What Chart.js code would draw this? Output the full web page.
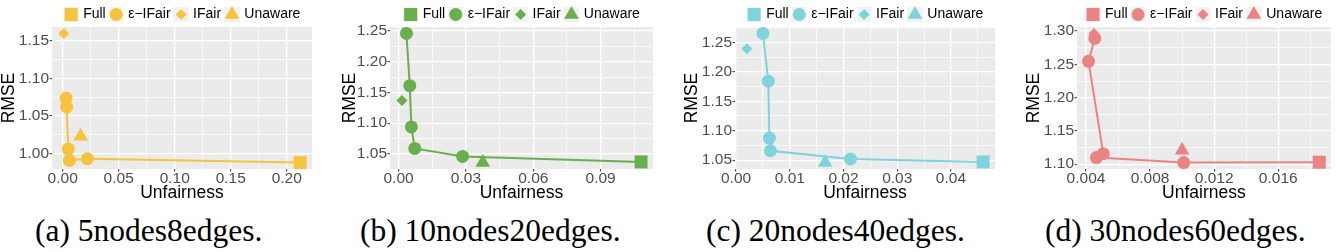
<!DOCTYPE html>
<html>
<head>
<meta charset="utf-8">
<script src="https://cdn.jsdelivr.net/npm/chart.js@4/dist/chart.umd.min.js"></script>
<style>
  body { margin: 0; background: #fff; width: 1340px; height: 252px; position: relative; overflow: hidden; }
  .panel { position: absolute; top: 0; width: 335px; height: 205px; }
  .cap { position: absolute; top: 215px; font-family: "Liberation Serif", serif; font-size: 31.5px; line-height: 31.5px; color: #000; white-space: nowrap; }
</style>
</head>
<body>
<div class="panel" style="left:0px"><canvas id="chartA" width="335" height="205"></canvas></div>
<div class="panel" style="left:335px"><canvas id="chartB" width="335" height="205"></canvas></div>
<div class="panel" style="left:670px"><canvas id="chartC" width="335" height="205"></canvas></div>
<div class="panel" style="left:1005px"><canvas id="chartD" width="335" height="205"></canvas></div>
<script>
// legend / captions
const legendLabels = ['Full', 'ε−IFair', 'IFair', 'Unaware'];
const captions = ['(a) 5nodes8edges.', '(b) 10nodes20edges.', '(c) 20nodes40edges.', '(d) 30nodes60edges.'];

// (a) 5nodes8edges  -- points are [unfairness, rmse]
const epsUnfairA = [0.003, 0.0035, 0.005, 0.006, 0.022];
const epsRmseA = [1.074, 1.062, 1.006, 0.991, 0.993];
const fullA = [0.212, 0.988];
const ifairA = [0.001, 1.160];
const unawareA = [0.016, 1.023];
const xTicksA = [0, 0.05, 0.10, 0.15, 0.20];
const yTicksA = [1.00, 1.05, 1.10, 1.15];

// (b) 10nodes20edges
const epsUnfairB = [0.0035, 0.005, 0.0057, 0.0072, 0.0285];
const epsRmseB = [1.246, 1.161, 1.094, 1.059, 1.046];
const fullB = [0.108, 1.037];
const ifairB = [0.0015, 1.137];
const unawareB = [0.0375, 1.036];
const xTicksB = [0, 0.03, 0.06, 0.09];
const yTicksB = [1.05, 1.10, 1.15, 1.20, 1.25];

// (c) 20nodes40edges
const epsUnfairC = [0.005, 0.006, 0.0062, 0.0064, 0.0213];
const epsRmseC = [1.265, 1.184, 1.0875, 1.066, 1.052];
const fullC = [0.046, 1.047];
const ifairC = [0.002, 1.239];
const unawareC = [0.0166, 1.046];
const xTicksC = [0, 0.01, 0.02, 0.03, 0.04];
const yTicksC = [1.05, 1.10, 1.15, 1.20, 1.25];

// (d) 30nodes60edges
const epsUnfairD = [0.00455, 0.00416, 0.00508, 0.00465, 0.0101];
const epsRmseD = [1.289, 1.2546, 1.1157, 1.110, 1.1025];
const fullD = [0.01856, 1.103];
const ifairD = [0.0045, 1.2965];
const unawareD = [0.0100, 1.121];
const xTicksD = [0.004, 0.008, 0.012, 0.016];
const yTicksD = [1.10, 1.15, 1.20, 1.25, 1.30];

const colors = ['#F5C43C', '#6AAF4D', '#7FD3DB', '#EA8483'];
const FONT = '"Liberation Sans", Arial, sans-serif';

function pts(xs, ys) { return xs.map((x, i) => ({ x: x, y: ys[i] })); }

// ggplot-like 5% expansion of the data range
function expand(vals) {
  const lo = Math.min(...vals), hi = Math.max(...vals), pad = (hi - lo) * 0.05;
  return [lo - pad, hi + pad];
}

// majors plus minor gridlines half way between
function withMinor(major, lo, hi) {
  const half = (major[1] - major[0]) / 2;
  let v = major[0];
  while (v - half >= lo) v -= half;
  const out = [];
  for (; v <= hi + 1e-12; v += half) {
    const isMajor = major.some(m => Math.abs(m - v) < half * 1e-3);
    out.push({ value: v, minor: !isMajor });
  }
  return out;
}

function drawShape(ctx, style, r, x, y, color) {
  ctx.fillStyle = color;
  ctx.beginPath();
  if (style === 'circle') {
    ctx.arc(x, y, r, 0, Math.PI * 2);
  } else if (style === 'rect') {
    const s = r * Math.SQRT1_2;
    ctx.rect(x - s, y - s, 2 * s, 2 * s);
  } else if (style === 'rectRot') {
    ctx.moveTo(x - r, y); ctx.lineTo(x, y - r); ctx.lineTo(x + r, y); ctx.lineTo(x, y + r); ctx.closePath();
  } else if (style === 'triangle') {
    ctx.moveTo(x, y - r); ctx.lineTo(x + r * 0.866, y + r / 2); ctx.lineTo(x - r * 0.866, y + r / 2); ctx.closePath();
  }
  ctx.fill();
}

// grey panel background
const panelBg = {
  id: 'panelBg',
  beforeDraw(chart) {
    const a = chart.chartArea, ctx = chart.ctx;
    ctx.save();
    ctx.fillStyle = '#EBEBEB';
    ctx.fillRect(a.left, a.top, a.right - a.left, a.bottom - a.top);
    ctx.restore();
  }
};

// ggplot style legend above the panel, keys on a light grey square
const keyLegend = {
  id: 'keyLegend',
  afterDraw(chart) {
    const ctx = chart.ctx, a = chart.chartArea;
    const sets = chart.data.datasets.slice(0, legendLabels.length);
    ctx.save();
    ctx.font = '14px ' + FONT;
    const items = sets.map(ds => {
      const r = ds.pointRadius;
      const sym = ds.pointStyle === 'triangle' ? r * 1.732 : ds.pointStyle === 'rect' ? r * 1.414 : 2 * r;
      return { ds: ds, key: Math.max(15, sym + 1), tw: ctx.measureText(ds.label).width };
    });
    const total = items.reduce((s, it) => s + it.key + 4.5 + it.tw, 0) + 3 * (items.length - 1);
    let x = (a.left + a.right) / 2 - total / 2;
    const cy = 14.5;
    items.forEach(it => {
      ctx.fillStyle = '#F2F2F2';
      ctx.fillRect(x, cy - 7.5, it.key, 15);
      drawShape(ctx, it.ds.pointStyle, it.ds.pointRadius, x + it.key / 2, cy, it.ds.pointBackgroundColor);
      x += it.key + 4.5;
      ctx.fillStyle = '#000';
      ctx.textBaseline = 'middle';
      ctx.textAlign = 'left';
      ctx.fillText(it.ds.label, x, cy);
      x += it.tw + 3;
    });
    ctx.restore();
  }
};

function axis(major, range, dec, title, fitFn, pad) {
  return {
    type: 'linear',
    min: range[0],
    max: range[1],
    afterBuildTicks: s => { s.ticks = withMinor(major, range[0], range[1]); },
    afterFit: fitFn,
    ticks: {
      autoSkip: false, maxRotation: 0, padding: pad,
      color: '#4D4D4D', font: { family: FONT, size: 15.5, lineHeight: 1 },
      callback: (v, i, t) => (t[i] && t[i].minor) ? '' : v.toFixed(dec)
    },
    grid: {
      color: '#FFFFFF',
      lineWidth: c => (c.tick && c.tick.minor) ? 0.7 : 1.3,
      tickLength: 2.5,
      tickWidth: 1,
      tickColor: c => (c.tick && c.tick.minor) ? 'rgba(0,0,0,0)' : '#333333'
    },
    border: { display: false },
    title: { display: true, text: title, color: '#000', padding: 0, font: { family: FONT, size: 17.5, lineHeight: 1 } }
  };
}

function makeChart(id, d, lay) {
  const col = colors[lay.c];
  const xs = d.epsX.concat([d.full[0], d.ifair[0], d.unaware[0]]);
  const ys = d.epsY.concat([d.full[1], d.ifair[1], d.unaware[1]]);
  const base = { pointBackgroundColor: col, backgroundColor: col, pointBorderWidth: 0, borderWidth: 0, pointHoverRadius: 0, clip: false };
  new Chart(document.getElementById(id), {
    type: 'scatter',
    data: {
      datasets: [
        Object.assign({ label: legendLabels[0], data: pts([d.full[0]], [d.full[1]]), pointStyle: 'rect', pointRadius: 9.2 }, base),
        Object.assign({ label: legendLabels[1], data: pts(d.epsX, d.epsY), pointStyle: 'circle', pointRadius: 6.5 }, base),
        Object.assign({ label: legendLabels[2], data: pts([d.ifair[0]], [d.ifair[1]]), pointStyle: 'rectRot', pointRadius: 5.5 }, base),
        Object.assign({ label: legendLabels[3], data: pts([d.unaware[0]], [d.unaware[1]]), pointStyle: 'triangle', pointRadius: 8.5 }, base),
        {
          label: 'path',
          data: pts(d.epsX.concat([d.full[0]]), d.epsY.concat([d.full[1]])),
          showLine: true, pointRadius: 0, borderColor: col, borderWidth: 2, fill: false, tension: 0, clip: false
        }
      ]
    },
    options: {
      responsive: false,
      animation: false,
      events: [],
      layout: { padding: { top: 27, left: lay.padLeft, right: 335 - lay.plotRight, bottom: 3.5 } },
      plugins: { legend: { display: false }, tooltip: { enabled: false } },
      scales: {
        x: axis(d.xTicks, expand(xs), d.xDec, 'Unfairness', s => { s.height = 32.5; }, -1),
        y: axis(d.yTicks, expand(ys), 2, 'RMSE', s => { s.width = lay.plotLeft - lay.padLeft; }, 0.5)
      }
    },
    plugins: [panelBg, keyLegend]
  });
}

makeChart('chartA', { epsX: epsUnfairA, epsY: epsRmseA, full: fullA, ifair: ifairA, unaware: unawareA, xTicks: xTicksA, yTicks: yTicksA, xDec: 2 },
  { c: 0, padLeft: 0, plotLeft: 52, plotRight: 312 });
makeChart('chartB', { epsX: epsUnfairB, epsY: epsRmseB, full: fullB, ifair: ifairB, unaware: unawareB, xTicks: xTicksB, yTicks: yTicksB, xDec: 2 },
  { c: 1, padLeft: 6, plotLeft: 55, plotRight: 318 });
makeChart('chartC', { epsX: epsUnfairC, epsY: epsRmseC, full: fullC, ifair: ifairC, unaware: unawareC, xTicks: xTicksC, yTicks: yTicksC, xDec: 2 },
  { c: 2, padLeft: 13, plotLeft: 65, plotRight: 325 });
makeChart('chartD', { epsX: epsUnfairD, epsY: epsRmseD, full: fullD, ifair: ifairD, unaware: unawareD, xTicks: xTicksD, yTicks: yTicksD, xDec: 3 },
  { c: 3, padLeft: 20, plotLeft: 72, plotRight: 332 });

// sub-figure captions
const capLeft = [35, 360, 706, 1045];
captions.forEach((t, i) => {
  const el = document.createElement('div');
  el.className = 'cap';
  el.style.left = capLeft[i] + 'px';
  el.textContent = t;
  document.body.appendChild(el);
});
</script>
</body>
</html>
